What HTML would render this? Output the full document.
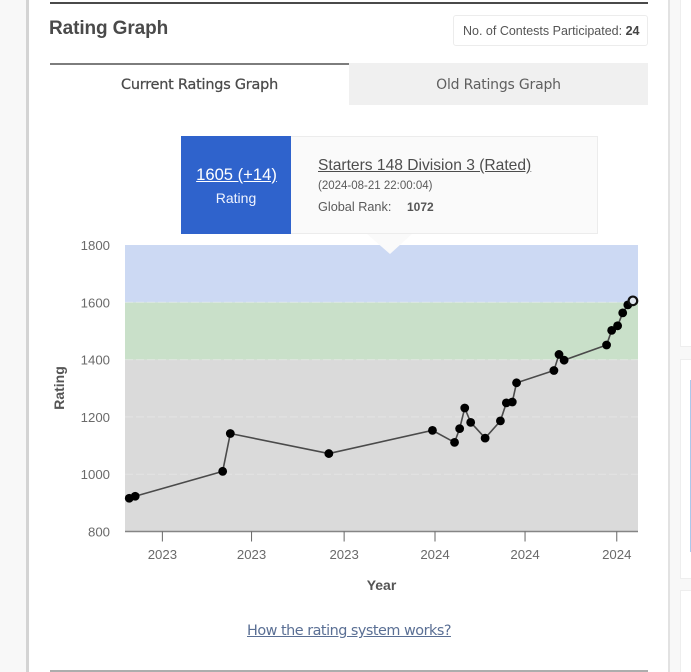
<!DOCTYPE html>
<html lang="en">
<head>
<meta charset="utf-8">
<title>Rating Graph</title>
<style>
html,body{margin:0;padding:0;width:691px;height:672px;overflow:hidden;background:#f8f8f8;font-family:"Liberation Sans",sans-serif;}
#page{position:relative;width:691px;height:672px;overflow:hidden;filter:blur(.35px);}
.abs{position:absolute;white-space:nowrap;}
#card{left:26px;top:-2px;width:644px;height:680px;background:#fff;border-left:3px solid #d4d4d4;border-right:2px solid #e2e2e2;box-sizing:border-box;}
.side{left:680px;width:20px;background:#fff;border:1px solid #eeeeee;box-sizing:border-box;}
a{color:inherit;}
svg text{font-family:"Liberation Sans",sans-serif;}
</style>
</head>
<body>
<div id="page">
  <div class="abs" id="card"></div>
  <div class="abs side" style="top:-2px;height:349px;"></div>
  <div class="abs side" style="top:359px;height:220px;"></div>
  <div class="abs" style="left:690px;top:380px;width:1px;height:172px;background:#a9c9ec;"></div>
  <div class="abs side" style="top:590px;height:90px;"></div>

  <div class="abs" style="left:50px;top:2px;width:598px;height:2px;background:#4a4a4a;"></div>
  <div class="abs" style="left:49px;top:17px;font-size:19px;font-weight:bold;line-height:24px;color:#4a4a4a;letter-spacing:-.1px;">Rating Graph</div>
  <div class="abs" style="left:453px;top:15px;width:195px;height:31px;box-sizing:border-box;border:1px solid #ececec;border-radius:3px;font-size:12.5px;line-height:30px;padding-left:9px;color:#555;">No. of Contests Participated: <b style="color:#444;">24</b></div>

  <div class="abs" style="left:50px;top:63px;width:299px;height:42px;box-sizing:border-box;border-top:2px solid #7d7d7d;text-align:center;font-family:'DejaVu Sans',sans-serif;font-size:14.4px;line-height:41px;color:#4a4a4a;letter-spacing:-.2px;-webkit-text-stroke:.25px #4a4a4a;">Current Ratings Graph</div>
  <div class="abs" style="left:349px;top:63px;width:299px;height:42px;background:#f0f0f0;text-align:center;font-family:'DejaVu Sans',sans-serif;font-size:14px;line-height:44px;color:#5f5f5f;letter-spacing:-.2px;">Old Ratings Graph</div>

  <svg class="abs" id="chart" style="left:0;top:0;" width="691" height="672" viewBox="0 0 691 672"></svg>

  <div class="abs" style="left:181px;top:136px;width:417px;height:98px;box-sizing:border-box;background:#fafafa;border:1px solid #ececec;"></div>
  <div class="abs" style="left:181px;top:136px;width:110px;height:98px;background:#2f63cc;"></div>
  <div class="abs" style="left:181px;top:165px;width:111px;text-align:center;font-size:16.6px;line-height:20px;color:#fff;"><u>1605 (+14)</u></div>
  <div class="abs" style="left:181px;top:190px;width:110px;text-align:center;font-size:14px;line-height:17px;color:#f0f4ff;">Rating</div>
  <div class="abs" style="left:318px;top:156px;font-size:15.6px;line-height:20px;color:#4d4d4d;"><u>Starters 148 Division 3 (Rated)</u></div>
  <div class="abs" style="left:318px;top:179px;font-size:11.5px;line-height:15px;color:#5a5a5a;">(2024-08-21 22:00:04)</div>
  <div class="abs" style="left:318px;top:199px;font-size:12.7px;line-height:17px;color:#5a5a5a;">Global Rank:</div>
  <div class="abs" style="left:407px;top:200px;font-size:12px;line-height:15px;font-weight:bold;color:#555;">1072</div>

  <div class="abs" style="left:199px;top:622px;width:300px;text-align:center;font-family:'DejaVu Sans',sans-serif;font-size:14.4px;line-height:18px;color:#5a6f94;letter-spacing:-.5px;"><u>How the rating system works?</u></div>
  <div class="abs" style="left:50px;top:670px;width:598px;height:2px;background:#adadad;"></div>
</div>
<script>
var contestDates = ["2023-01-06","2023-01-13","2023-04-26","2023-05-05","2023-08-29","2023-12-29","2024-01-24","2024-01-30","2024-02-05","2024-02-12","2024-02-29","2024-03-18","2024-03-25","2024-04-01","2024-04-06","2024-05-20","2024-05-26","2024-06-01","2024-07-21","2024-07-27","2024-08-03","2024-08-09","2024-08-15","2024-08-21"];
var ratings = [916,923,1010,1142,1072,1153,1111,1159,1231,1181,1126,1186,1249,1252,1319,1362,1418,1398,1451,1502,1518,1563,1591,1605];
var yTicks = [800,1000,1200,1400,1600,1800];
var xTickDates = ["2023-02-14","2023-05-30","2023-09-16","2024-01-01","2024-04-16","2024-08-02"];
var xTickLabels = ["2023","2023","2023","2024","2024","2024"];
var bandStops = [800,1400,1600,1800];
var bandColors = ["#dadada","#c9e0c9","#ccd9f3"];
var domainDates = ["2023-01-01","2024-08-27"];
var NS = "http://www.w3.org/2000/svg";
var svg = document.getElementById("chart");
var left = 125, right = 638, top_ = 245, bottom = 531.5;
function time(d){ return Date.parse(d + "T00:00:00Z"); }
function xScale(d){
  var a = time(domainDates[0]), b = time(domainDates[1]);
  return left + (time(d) - a) / (b - a) * (right - left);
}
function yScale(v){
  var lo = yTicks[0], hi = yTicks[yTicks.length - 1];
  return bottom - (v - lo) / (hi - lo) * (bottom - top_);
}
function make(tag, attrs, text){
  var el = document.createElementNS(NS, tag);
  for (var k in attrs) el.setAttribute(k, attrs[k]);
  if (text !== undefined) el.textContent = text;
  svg.appendChild(el);
  return el;
}
var el, i;
for (i = 0; i < bandColors.length; i++){
  el = make("rect", {x:left, y:yScale(bandStops[i+1]), width:right-left, height:yScale(bandStops[i])-yScale(bandStops[i+1]), fill:bandColors[i]});
  
  
}
for (i = 1; i < yTicks.length - 1; i++){
  el = make("line", {x1:left, x2:right, y1:yScale(yTicks[i]), y2:yScale(yTicks[i]), stroke:"#f2f2f2", "stroke-width":1, "stroke-dasharray":"8 3", opacity:.4});
  
  
}
for (i = 0; i < yTicks.length; i++){
  el = make("text", {x:110, y:yScale(yTicks[i]) + 5, "text-anchor":"end", "font-size":13.2, fill:"#6a6a6a"}, String(yTicks[i]));
  
  
}
el = make("line", {x1:left, x2:right, y1:bottom, y2:bottom, stroke:"#858585", "stroke-width":1.6});


for (i = 0; i < xTickDates.length; i++){
  el = make("line", {x1:xScale(xTickDates[i]), x2:xScale(xTickDates[i]), y1:bottom, y2:bottom + 10, stroke:"#666", "stroke-width":1});
  
  
  el = make("text", {x:xScale(xTickDates[i]), y:559, "text-anchor":"middle", "font-size":13.2, fill:"#6a6a6a"}, xTickLabels[i]);
  
  
}
el = make("text", {x:381.5, y:590, "text-anchor":"middle", "font-size":14, "font-weight":"bold", fill:"#555"}, "Year");


el = make("text", {x:64, y:388, "text-anchor":"middle", "font-size":14, "font-weight":"bold", fill:"#555", transform:"rotate(-90 64 388)"}, "Rating");


var pts = contestDates.map(function(d, j){ return xScale(d) + "," + yScale(ratings[j]); }).join(" ");
el = make("polyline", {points:pts, fill:"none", stroke:"#4a4a4a", "stroke-width":1.6});


for (i = 0; i < ratings.length; i++){
  var isLast = i === ratings.length - 1;
  el = make("circle", {cx:xScale(contestDates[i]), cy:yScale(ratings[i]), r:isLast ? 4.3 : 4.4, fill:isLast ? "#dfe6ee" : "#000", stroke:isLast ? "#111" : "none", "stroke-width":isLast ? 2.2 : 0});
  
  
}
/* tooltip pointer */
el = make("polygon", {points:"367,234 412,234 390,254", fill:"#fafafa"});


</script>
</body>
</html>
